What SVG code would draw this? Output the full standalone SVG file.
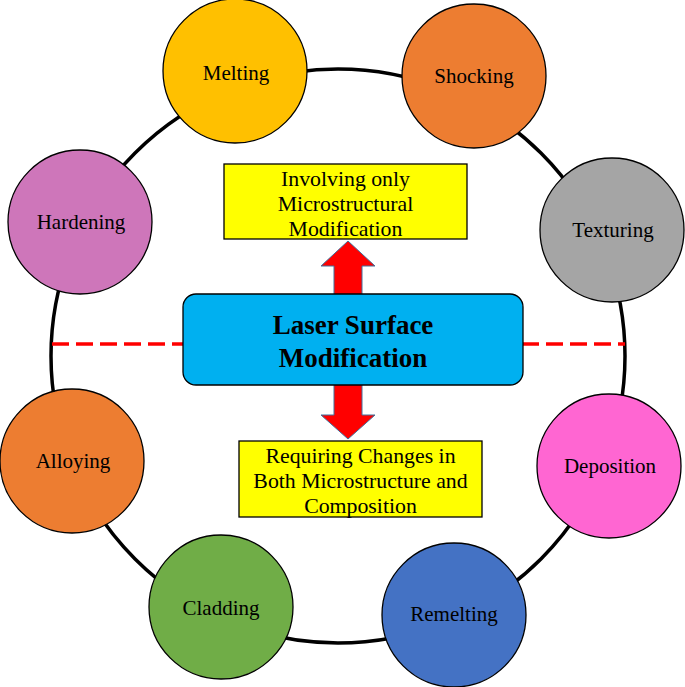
<svg xmlns="http://www.w3.org/2000/svg" width="685" height="687" viewBox="0 0 685 687">
<style>
.ring{fill:none;stroke:#000;stroke-width:3.5}
.dash{stroke:#FF0000;stroke-width:3.5;stroke-dasharray:17,7;fill:none}
.node circle{stroke:#000;stroke-width:1.3}
.nt{font-family:"Liberation Serif","Times New Roman",serif;font-size:21px;fill:#000;text-anchor:middle}
.bt{font-family:"Liberation Serif","Times New Roman",serif;font-size:21.8px;fill:#000;text-anchor:middle}
.ct{font-family:"Liberation Serif","Times New Roman",serif;font-size:27px;font-weight:bold;fill:#000;text-anchor:middle}
.arrow{fill:#FF0000;stroke:#41719C;stroke-width:1}
.ybox{fill:#FFFF00;stroke:#000;stroke-width:1.3}
</style>
<g id="connectors">
<circle class="ring" cx="338" cy="356" r="287"/>
<line class="dash" x1="52" y1="344" x2="184" y2="344"/>
<line class="dash" x1="522" y1="344" x2="625" y2="344"/>
<polygon class="arrow" points="334,300 334,266 321,266 348,241 375,266 362,266 362,300"/>
<polygon class="arrow" points="334,380 334,415 321,415 348,439 375,415 362,415 362,380"/>
</g>
<g id="melting" class="node"><circle cx="235" cy="71" r="72" fill="#FFC000"/><text class="nt" x="236" y="80">Melting</text></g>
<g id="shocking" class="node"><circle cx="474" cy="76" r="72" fill="#ED7D31"/><text class="nt" x="474" y="83">Shocking</text></g>
<g id="texturing" class="node"><circle cx="612" cy="230" r="72" fill="#A5A5A5"/><text class="nt" x="613" y="237">Texturing</text></g>
<g id="deposition" class="node"><circle cx="609" cy="466" r="72" fill="#FF66D2"/><text class="nt" x="610" y="473">Deposition</text></g>
<g id="remelting" class="node"><circle cx="454" cy="615" r="72" fill="#4472C4"/><text class="nt" x="454" y="621">Remelting</text></g>
<g id="cladding" class="node"><circle cx="221" cy="607" r="72" fill="#70AD47"/><text class="nt" x="221" y="615">Cladding</text></g>
<g id="alloying" class="node"><circle cx="72" cy="461" r="72" fill="#ED7D31"/><text class="nt" x="73" y="468">Alloying</text></g>
<g id="hardening" class="node"><circle cx="80" cy="222" r="72" fill="#CE76BA"/><text class="nt" x="81" y="229">Hardening</text></g>
<g id="center">
<rect x="183" y="294" width="340" height="91" rx="13" fill="#00B0F0" stroke="#000" stroke-width="1.3"/>
<text class="ct" x="353" y="334">Laser Surface</text>
<text class="ct" x="353" y="367">Modification</text>
</g>
<g id="top-box">
<rect class="ybox" x="224" y="164" width="243" height="75"/>
<text class="bt" x="345.5" y="186">Involving only</text>
<text class="bt" x="345.5" y="211">Microstructural</text>
<text class="bt" x="345.5" y="236">Modification</text>
</g>
<g id="bottom-box">
<rect class="ybox" x="239" y="441" width="243" height="76"/>
<text class="bt" x="360.5" y="463">Requiring Changes in</text>
<text class="bt" x="360.5" y="488">Both Microstructure and</text>
<text class="bt" x="360.5" y="513">Composition</text>
</g>
</svg>
